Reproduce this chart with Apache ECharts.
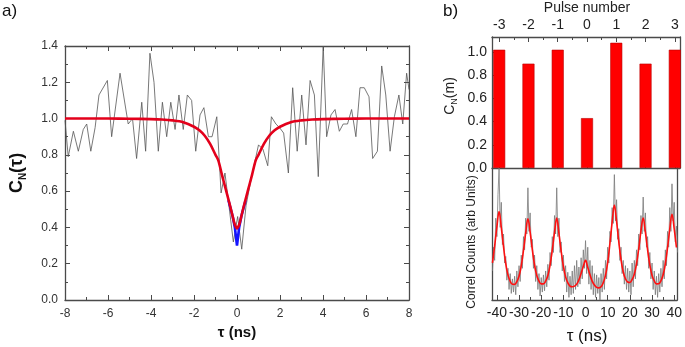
<!DOCTYPE html>
<html><head><meta charset="utf-8">
<script src="https://cdn.jsdelivr.net/npm/echarts@6/dist/echarts.min.js"></script>
<style>html,body{margin:0;padding:0;background:#fff}#c{width:685px;height:347px}</style>
</head><body><div id="c"></div>
<script>
// ---- Panel a: normalised correlation C_N(tau) ----
const tauA = [-8.00,-7.85,-7.61,-7.38,-7.15,-6.99,-6.80,-6.60,-6.42,-6.03,-5.83,-5.44,-5.06,-4.86,-4.67,-4.43,-4.25,-4.05,-3.86,-3.66,-3.47,-3.27,-3.08,-2.88,-2.70,-2.50,-2.31,-2.11,-1.92,-1.72,-1.54,-1.33,-1.16,-0.94,-0.74,-0.56,-0.17,0.03,0.22,0.42,0.68,1.00,1.21,1.43,1.60,1.81,1.98,2.17,2.39,2.59,2.80,3.01,3.21,3.40,3.60,3.78,4.01,4.17,4.37,4.56,4.76,4.94,5.14,5.33,5.53,5.72,5.92,6.14,6.31,6.53,6.73,6.92,7.12,7.32,7.53,7.71,7.89,8.00];
const cnA = [0.99,0.79,0.93,0.82,0.94,0.97,0.82,0.95,1.13,1.21,0.90,1.25,0.97,1.00,0.78,1.09,0.82,1.36,1.20,0.82,1.09,0.90,1.09,0.94,1.13,0.94,1.13,1.10,0.82,1.02,1.06,0.90,0.90,1.01,0.59,0.70,0.32,0.46,0.28,0.52,0.68,0.855,0.83,0.74,1.01,0.97,0.95,0.92,0.70,1.17,0.82,1.13,0.855,1.21,1.13,0.68,1.40,0.90,1.02,1.05,0.93,0.97,0.97,1.05,0.90,1.17,1.17,1.12,0.78,0.82,1.29,1.13,0.82,1.01,1.13,0.97,1.25,1.16];
const tauFitA = [-8,-6,-5,-4,-3.5,-3,-2.5,-2,-1.75,-1.5,-1.25,-1,-0.87,-0.7,-0.5,-0.3,-0.2,-0.1,0,0.1,0.2,0.3,0.5,0.7,0.87,1,1.25,1.5,1.75,2,2.5,3,3.5,4,5,6,8];
const fitA = [1.0,1.0,0.999,0.997,0.995,0.99,0.98,0.955,0.935,0.905,0.86,0.80,0.77,0.69,0.60,0.51,0.46,0.415,0.395,0.415,0.46,0.51,0.60,0.69,0.77,0.80,0.86,0.905,0.935,0.955,0.98,0.99,0.995,0.997,0.999,1.0,1.0];
const tauBlueA = [-0.4,-0.2,-0.1,0,0.1,0.2,0.4];
const blueA = [0.55,0.46,0.40,0.30,0.40,0.46,0.55];

// ---- Panel b (top): C_N(m) per pulse ----
const pulses = [-3,-2,-1,0,1,2,3];
const cnM = [1.02,0.90,1.02,0.43,1.08,0.90,1.02];
const yTicksBTop = [0,0.2,0.4,0.6,0.8,1.0];
const pulseMinor = [-2.5,-1.5,-0.5,0.5,1.5,2.5];

// ---- Panel b (bottom): correlation counts ----
const tauB0 = -42, tauBStep = 0.5;
const countsB = [0.22,0.40,0.30,0.62,0.48,0.80,1.00,0.55,0.74,0.42,
0.50,0.28,0.33,0.15,0.24,0.08,0.20,0.05,0.16,0.06,
0.18,0.04,0.22,0.10,0.26,0.14,0.34,0.24,0.48,0.38,
0.62,0.50,0.85,0.52,0.66,0.40,0.46,0.24,0.34,0.14,
0.26,0.08,0.20,0.03,0.17,0.06,0.19,0.07,0.22,0.10,
0.27,0.15,0.36,0.26,0.48,0.36,0.64,0.50,0.85,0.48,
0.62,0.36,0.44,0.22,0.34,0.14,0.26,0.06,0.21,0.02,
0.18,0.04,0.22,0.05,0.26,0.08,0.30,0.10,0.25,0.12,
0.32,0.16,0.38,0.24,0.45,0.20,0.40,0.12,0.30,0.08,
0.26,0.04,0.20,0.02,0.19,0.05,0.17,0.00,0.20,0.06,
0.24,0.08,0.30,0.16,0.40,0.28,0.52,0.44,0.70,0.58,
0.95,0.60,0.76,0.46,0.54,0.30,0.40,0.20,0.30,0.12,
0.26,0.08,0.24,0.06,0.22,0.04,0.28,0.10,0.30,0.16,
0.38,0.26,0.50,0.38,0.64,0.50,0.78,0.52,0.66,0.40,
0.48,0.24,0.36,0.16,0.28,0.08,0.22,0.04,0.18,0.02,
0.20,0.06,0.24,0.10,0.30,0.16,0.38,0.26,0.52,0.40,
0.70,0.52,0.88,0.60,0.74,0.44,0.56,0.36];
const fitB0 = -42, fitBStep = 1;
const fitB = [0.281,0.409,0.554,0.67,0.549,0.404,0.276,0.19,0.142,0.119,
0.118,0.139,0.18,0.26,0.375,0.509,0.615,0.514,0.38,0.265,
0.185,0.143,0.122,0.122,0.143,0.185,0.265,0.38,0.514,0.62,
0.504,0.37,0.255,0.175,0.13,0.105,0.10,0.105,0.12,0.153,
0.201,0.256,0.30,0.246,0.191,0.143,0.113,0.096,0.092,0.10,
0.131,0.187,0.285,0.428,0.59,0.72,0.596,0.441,0.305,0.212,
0.161,0.136,0.133,0.154,0.195,0.275,0.39,0.524,0.62,0.514,
0.38,0.265,0.185,0.144,0.122,0.123,0.145,0.191,0.275,0.398,
0.538,0.65,0.538,0.398];
const xTicksB = [-40,-30,-20,-10,0,10,20,30,40];
const xMinorB = [-35,-25,-15,-5,5,15,25,35];

const zip = (a, b) => a.map((v, i) => [v, b[i]]);
const gridTau = (x0, step, arr) => arr.map((v, i) => [x0 + i * step, v]);

const FONT = 'Arial, "Liberation Sans", sans-serif';
const AX = '#4a4a4a';
const lineAx = {show: true, onZero: false, lineStyle: {color: AX, width: 1.3}};
const noLine = {show: false, onZero: false};
const noLbl = {show: false};

const chart = echarts.init(document.getElementById('c'), null, {renderer: 'canvas'});
chart.setOption({
  animation: false,
  backgroundColor: '#fff',
  grid: [
    {left: 65, top: 46, width: 344, height: 254},
    {left: 492, top: 37, width: 188, height: 131},
    {left: 492, top: 168, width: 188, height: 132}
  ],
  xAxis: [
    {gridIndex: 0, type: 'value', min: -8, max: 8, interval: 2, axisLine: lineAx,
     axisTick: {inside: true, length: 5, lineStyle: {color: AX}},
     minorTick: {show: true, splitNumber: 2, length: 3, lineStyle: {color: AX}},
     splitLine: {show: false},
     axisLabel: {color: '#333', fontSize: 12, fontFamily: FONT, margin: 8}},
    {gridIndex: 0, type: 'value', position: 'top', min: -8, max: 8, interval: 2, axisLine: lineAx,
     axisTick: {inside: true, length: 5, lineStyle: {color: AX}},
     minorTick: {show: true, splitNumber: 2, length: 3, lineStyle: {color: AX}},
     splitLine: {show: false}, axisLabel: noLbl},
    {gridIndex: 1, type: 'value', position: 'top', min: -3.246, max: 3.177, axisLine: lineAx,
     axisTick: {inside: true, length: 5, customValues: pulses, lineStyle: {color: AX}},
     splitLine: {show: false},
     axisLabel: {customValues: pulses, color: '#222', fontSize: 14, fontFamily: FONT, margin: 5}},
    {gridIndex: 1, type: 'value', position: 'top', min: -3.246, max: 3.177, axisLine: noLine,
     axisTick: {inside: true, length: 3, customValues: pulseMinor, lineStyle: {color: AX}},
     splitLine: {show: false}, axisLabel: noLbl},
    {gridIndex: 1, type: 'value', position: 'bottom', min: -3.246, max: 3.177, axisLine: lineAx,
     axisTick: {inside: true, length: 4, customValues: pulses, lineStyle: {color: AX}},
     splitLine: {show: false}, axisLabel: noLbl},
    {gridIndex: 2, type: 'value', position: 'bottom', min: -42.2, max: 41.3, axisLine: lineAx,
     axisTick: {inside: true, length: 5, customValues: xTicksB, lineStyle: {color: AX}},
     splitLine: {show: false},
     axisLabel: {customValues: xTicksB, color: '#222', fontSize: 14, fontFamily: FONT, margin: 6}},
    {gridIndex: 2, type: 'value', position: 'bottom', min: -42.2, max: 41.3, axisLine: noLine,
     axisTick: {inside: true, length: 3, customValues: xMinorB, lineStyle: {color: AX}},
     splitLine: {show: false}, axisLabel: noLbl}
  ],
  yAxis: [
    {gridIndex: 0, type: 'value', min: 0, max: 1.4, interval: 0.2, axisLine: lineAx,
     axisTick: {show: true, inside: true, length: 5, lineStyle: {color: AX}},
     minorTick: {show: true, splitNumber: 2, length: 3, lineStyle: {color: AX}},
     splitLine: {show: false},
     axisLabel: {color: '#333', fontSize: 12, fontFamily: FONT, margin: 7, formatter: v => v.toFixed(1)}},
    {gridIndex: 0, type: 'value', position: 'right', min: 0, max: 1.4, interval: 0.2, axisLine: lineAx,
     axisTick: {show: true, inside: true, length: 5, lineStyle: {color: AX}},
     minorTick: {show: true, splitNumber: 2, length: 3, lineStyle: {color: AX}},
     splitLine: {show: false}, axisLabel: noLbl},
    {gridIndex: 1, type: 'value', min: 0, max: 1.13, axisLine: lineAx,
     axisTick: {show: true, inside: true, length: 4, customValues: yTicksBTop, lineStyle: {color: AX}},
     splitLine: {show: false},
     axisLabel: {customValues: yTicksBTop, color: '#222', fontSize: 14, fontFamily: FONT, margin: 5, formatter: v => v.toFixed(1)}},
    {gridIndex: 1, type: 'value', position: 'right', min: 0, max: 1.13, axisLine: lineAx,
     axisTick: {show: true, inside: true, length: 4, customValues: yTicksBTop, lineStyle: {color: AX}},
     splitLine: {show: false}, axisLabel: noLbl},
    {gridIndex: 2, type: 'value', min: 0, max: 1, axisLine: lineAx,
     axisTick: {show: false}, splitLine: {show: false}, axisLabel: noLbl},
    {gridIndex: 2, type: 'value', position: 'right', min: 0, max: 1, axisLine: lineAx,
     axisTick: {show: false}, splitLine: {show: false}, axisLabel: noLbl}
  ],
  series: [
    {type: 'line', xAxisIndex: 0, yAxisIndex: 0, data: zip(tauA, cnA), symbol: 'none',
     lineStyle: {color: '#555', width: 0.8}, z: 2},
    {type: 'line', xAxisIndex: 0, yAxisIndex: 0, data: zip(tauBlueA, blueA), symbol: 'none',
     lineStyle: {color: '#1414ff', width: 2.6}, z: 3},
    {type: 'line', xAxisIndex: 0, yAxisIndex: 0, data: zip(tauFitA, fitA), symbol: 'none', smooth: 0.3,
     lineStyle: {color: '#e3001b', width: 2.6}, z: 4},
    {type: 'bar', xAxisIndex: 2, yAxisIndex: 2, data: zip(pulses, cnM), barWidth: 12,
     itemStyle: {color: '#ff0000', borderColor: '#b80000', borderWidth: 0.6}},
    {type: 'line', xAxisIndex: 5, yAxisIndex: 4, data: gridTau(tauB0, tauBStep, countsB), symbol: 'none',
     lineStyle: {color: '#7a7a7a', width: 0.8}, z: 2},
    {type: 'line', xAxisIndex: 5, yAxisIndex: 4, data: gridTau(fitB0, fitBStep, fitB), symbol: 'none', smooth: 0.4,
     lineStyle: {color: '#ff1010', width: 1.6}, z: 3}
  ],
  graphic: [
    {type: 'text', left: 2, top: 3, style: {text: 'a)', font: '17px ' + FONT, fill: '#111'}},
    {type: 'text', left: 443, top: 3, style: {text: 'b)', font: '17px ' + FONT, fill: '#111'}},
    {type: 'text', x: 587, y: 8, style: {text: 'Pulse number', font: '14px ' + FONT, fill: '#222', align: 'center', verticalAlign: 'middle'}},
    {type: 'text', x: 237, y: 333, style: {text: 'τ (ns)', font: 'bold 15px ' + FONT, fill: '#111', align: 'center', verticalAlign: 'middle'}},
    {type: 'text', x: 587, y: 336, style: {text: 'τ (ns)', font: '17px ' + FONT, fill: '#111', align: 'center', verticalAlign: 'middle'}},
    {type: 'text', x: 17, y: 173, rotation: Math.PI / 2,
     style: {text: '{b|C}{s|N}{b|(τ)}', align: 'center', verticalAlign: 'middle',
       rich: {b: {font: 'bold 18px ' + FONT, fill: '#111', lineHeight: 22},
              s: {font: 'bold 10px ' + FONT, fill: '#111', lineHeight: 10, verticalAlign: 'bottom'}}}},
    {type: 'text', x: 450, y: 96, rotation: Math.PI / 2,
     style: {text: '{b|C}{s|N}{b|(m)}', align: 'center', verticalAlign: 'middle',
       rich: {b: {font: '14px ' + FONT, fill: '#222', lineHeight: 18},
              s: {font: '9px ' + FONT, fill: '#222', lineHeight: 9, verticalAlign: 'bottom'}}}},
    {type: 'text', x: 472, y: 242, rotation: Math.PI / 2,
     style: {text: 'Correl Counts (arb Units)', font: '12px ' + FONT, fill: '#222', align: 'center', verticalAlign: 'middle'}}
  ]
});
</script></body></html>
